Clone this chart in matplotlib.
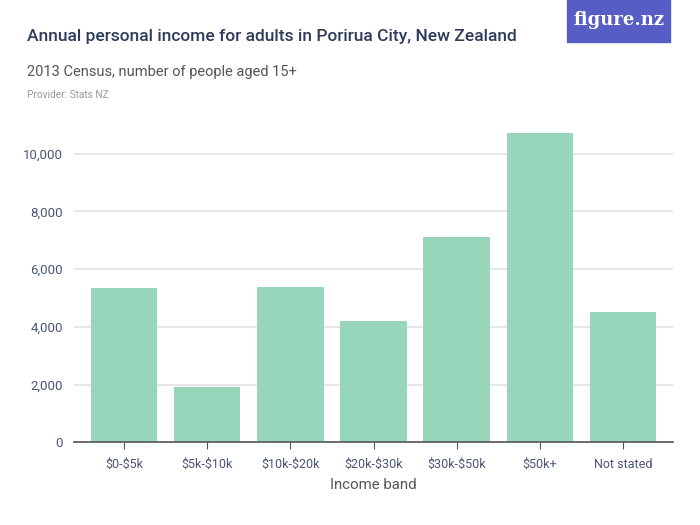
import matplotlib
matplotlib.use("Agg")
import matplotlib.pyplot as plt

# data
bands = ["\\$0-\\$5k", "\\$5k-\\$10k", "\\$10k-\\$20k", "\\$20k-\\$30k", "\\$30k-\\$50k", "\\$50k+", "Not stated"]
people = [5330, 1910, 5380, 4200, 7095, 10710, 4510]
yticks = [0, 2000, 4000, 6000, 8000, 10000]

plt.rcParams["font.family"] = ["Roboto", "DejaVu Sans"]

navy = "#2e3b5b"
tick_col = "#4b5675"

fig = plt.figure(figsize=(7, 5.25), dpi=100)
ax = fig.add_axes([74 / 700, 1 - 442.4 / 525, (673 - 74) / 700, (442.4 - 124.7) / 525])

x = range(len(bands))
ax.bar(x, people, width=0.8, color="#97d6bb", zorder=2)
ax.set_xlim(-0.6, 6.6)
ax.set_ylim(0, 11000)
ax.set_yticks(yticks)
ax.set_yticklabels([f"{v:,}" for v in yticks])
ax.set_xticks(list(x))
ax.set_xticklabels(bands)
ax.grid(axis="y", color="#e2e2e2", linewidth=1.2, zorder=0)
for s in ["top", "right", "left"]:
    ax.spines[s].set_visible(False)
ax.spines["bottom"].set_color("#555555")
ax.spines["bottom"].set_linewidth(1.2)
ax.tick_params(axis="y", length=0, pad=8, labelsize=9.5, labelcolor=tick_col)
ax.tick_params(axis="x", length=5, color="#555555", pad=6, labelsize=9, labelcolor=tick_col)
ax.set_xlabel("Income band", fontsize=10.8, color="#555555", labelpad=5)

fig.text(27 / 700, 1 - 37 / 525, "Annual personal income for adults in Porirua City, New Zealand",
         fontsize=12.5, color=navy, va="center", fontweight="medium")
fig.text(27 / 700, 1 - 72 / 525, "2013 Census, number of people aged 15+",
         fontsize=10.5, color="#555555", va="center")
fig.text(27 / 700, 1 - 95 / 525, "Provider: Stats NZ", fontsize=7.3, color="#999999", va="center")

# logo box
fig.patches.append(plt.Rectangle((567 / 700, 1 - 42 / 525), 103 / 700, 42 / 525,
                                 transform=fig.transFigure, color="#565dc5", zorder=5))
fig.text(619 / 700, 1 - 20 / 525, "figure.nz", fontsize=13, color="white", ha="center",
         va="center", family="DejaVu Serif", fontweight="bold", zorder=6)

fig.savefig("out.png", dpi=100)
